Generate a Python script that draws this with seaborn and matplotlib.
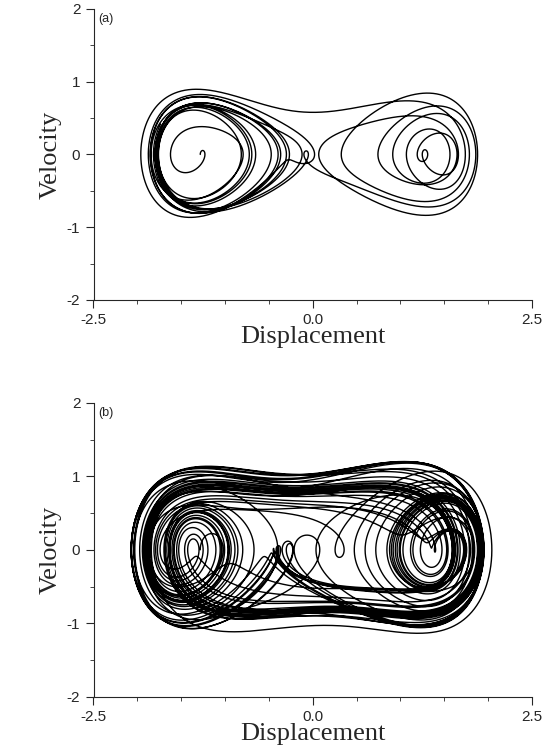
import numpy as np
import matplotlib
matplotlib.use('Agg')
import matplotlib.pyplot as plt
import seaborn as sns
from matplotlib.ticker import MultipleLocator

sns.set_style('ticks')
plt.rcParams['font.family'] = ['Liberation Sans', 'DejaVu Sans']
plt.rcParams['axes.unicode_minus'] = False

# Duffing oscillator parameters (damping, forcing, frequency)
panel_tags = ['(a)', '(b)']
damping = [0.15, 0.3]
forcing = [0.2, 0.5]
omega = [1.2, 1.2]
start_state = [(-0.95, 0.0), (-0.95, 0.0)]
t_end = [120.0, 400.0]
x_scale = 1.35
v_scale = 1.15
x_ticks = [-2.5, 0.0, 2.5]
y_ticks = [-2, -1, 0, 1, 2]


def duffing(t0, state, d, g, w):
    x, v = state
    return np.array([v, -d * v + x - x ** 3 + g * np.cos(w * t0)])


def integrate(x0, d, g, w, tmax, h=0.01):
    n = int(tmax / h)
    out = np.empty((n, 2))
    s = np.array(x0, dtype=float)
    t = 0.0
    for i in range(n):
        out[i] = s
        k1 = duffing(t, s, d, g, w)
        k2 = duffing(t + h / 2, s + h / 2 * k1, d, g, w)
        k3 = duffing(t + h / 2, s + h / 2 * k2, d, g, w)
        k4 = duffing(t + h, s + h * k3, d, g, w)
        s = s + h / 6 * (k1 + 2 * k2 + 2 * k3 + k4)
        t += h
    return out


fig = plt.figure(figsize=(5.5, 7.46), dpi=100)
axes = [fig.add_axes([0.17, 0.598, 0.797, 0.39]),
        fig.add_axes([0.17, 0.066, 0.797, 0.394])]

for i, ax in enumerate(axes):
    traj = integrate(start_state[i], damping[i], forcing[i], omega[i], t_end[i])
    sns.lineplot(x=traj[:, 0] * x_scale, y=traj[:, 1] * v_scale, sort=False,
                 color='black', linewidth=1.0, ax=ax, estimator=None)
    ax.set_xlim(-2.5, 2.5)
    ax.set_ylim(-2, 2)
    ax.set_xticks(x_ticks)
    ax.set_xticklabels(['-2.5', '0.0', '2.5'])
    ax.set_yticks(y_ticks)
    ax.xaxis.set_minor_locator(MultipleLocator(0.5))
    ax.yaxis.set_minor_locator(MultipleLocator(0.5))
    ax.tick_params(which='both', direction='out', labelsize=11)
    ax.tick_params(which='minor', length=3)
    ax.tick_params(which='major', length=6)
    sns.despine(ax=ax)
    ax.set_xlabel('Displacement', family='Liberation Serif', fontsize=19, labelpad=-1)
    ax.set_ylabel('Velocity', family='Liberation Serif', fontsize=19)
    ax.text(0.01, 0.985, panel_tags[i], transform=ax.transAxes, fontsize=9, va='top')

fig.savefig('out.png', dpi=100)
